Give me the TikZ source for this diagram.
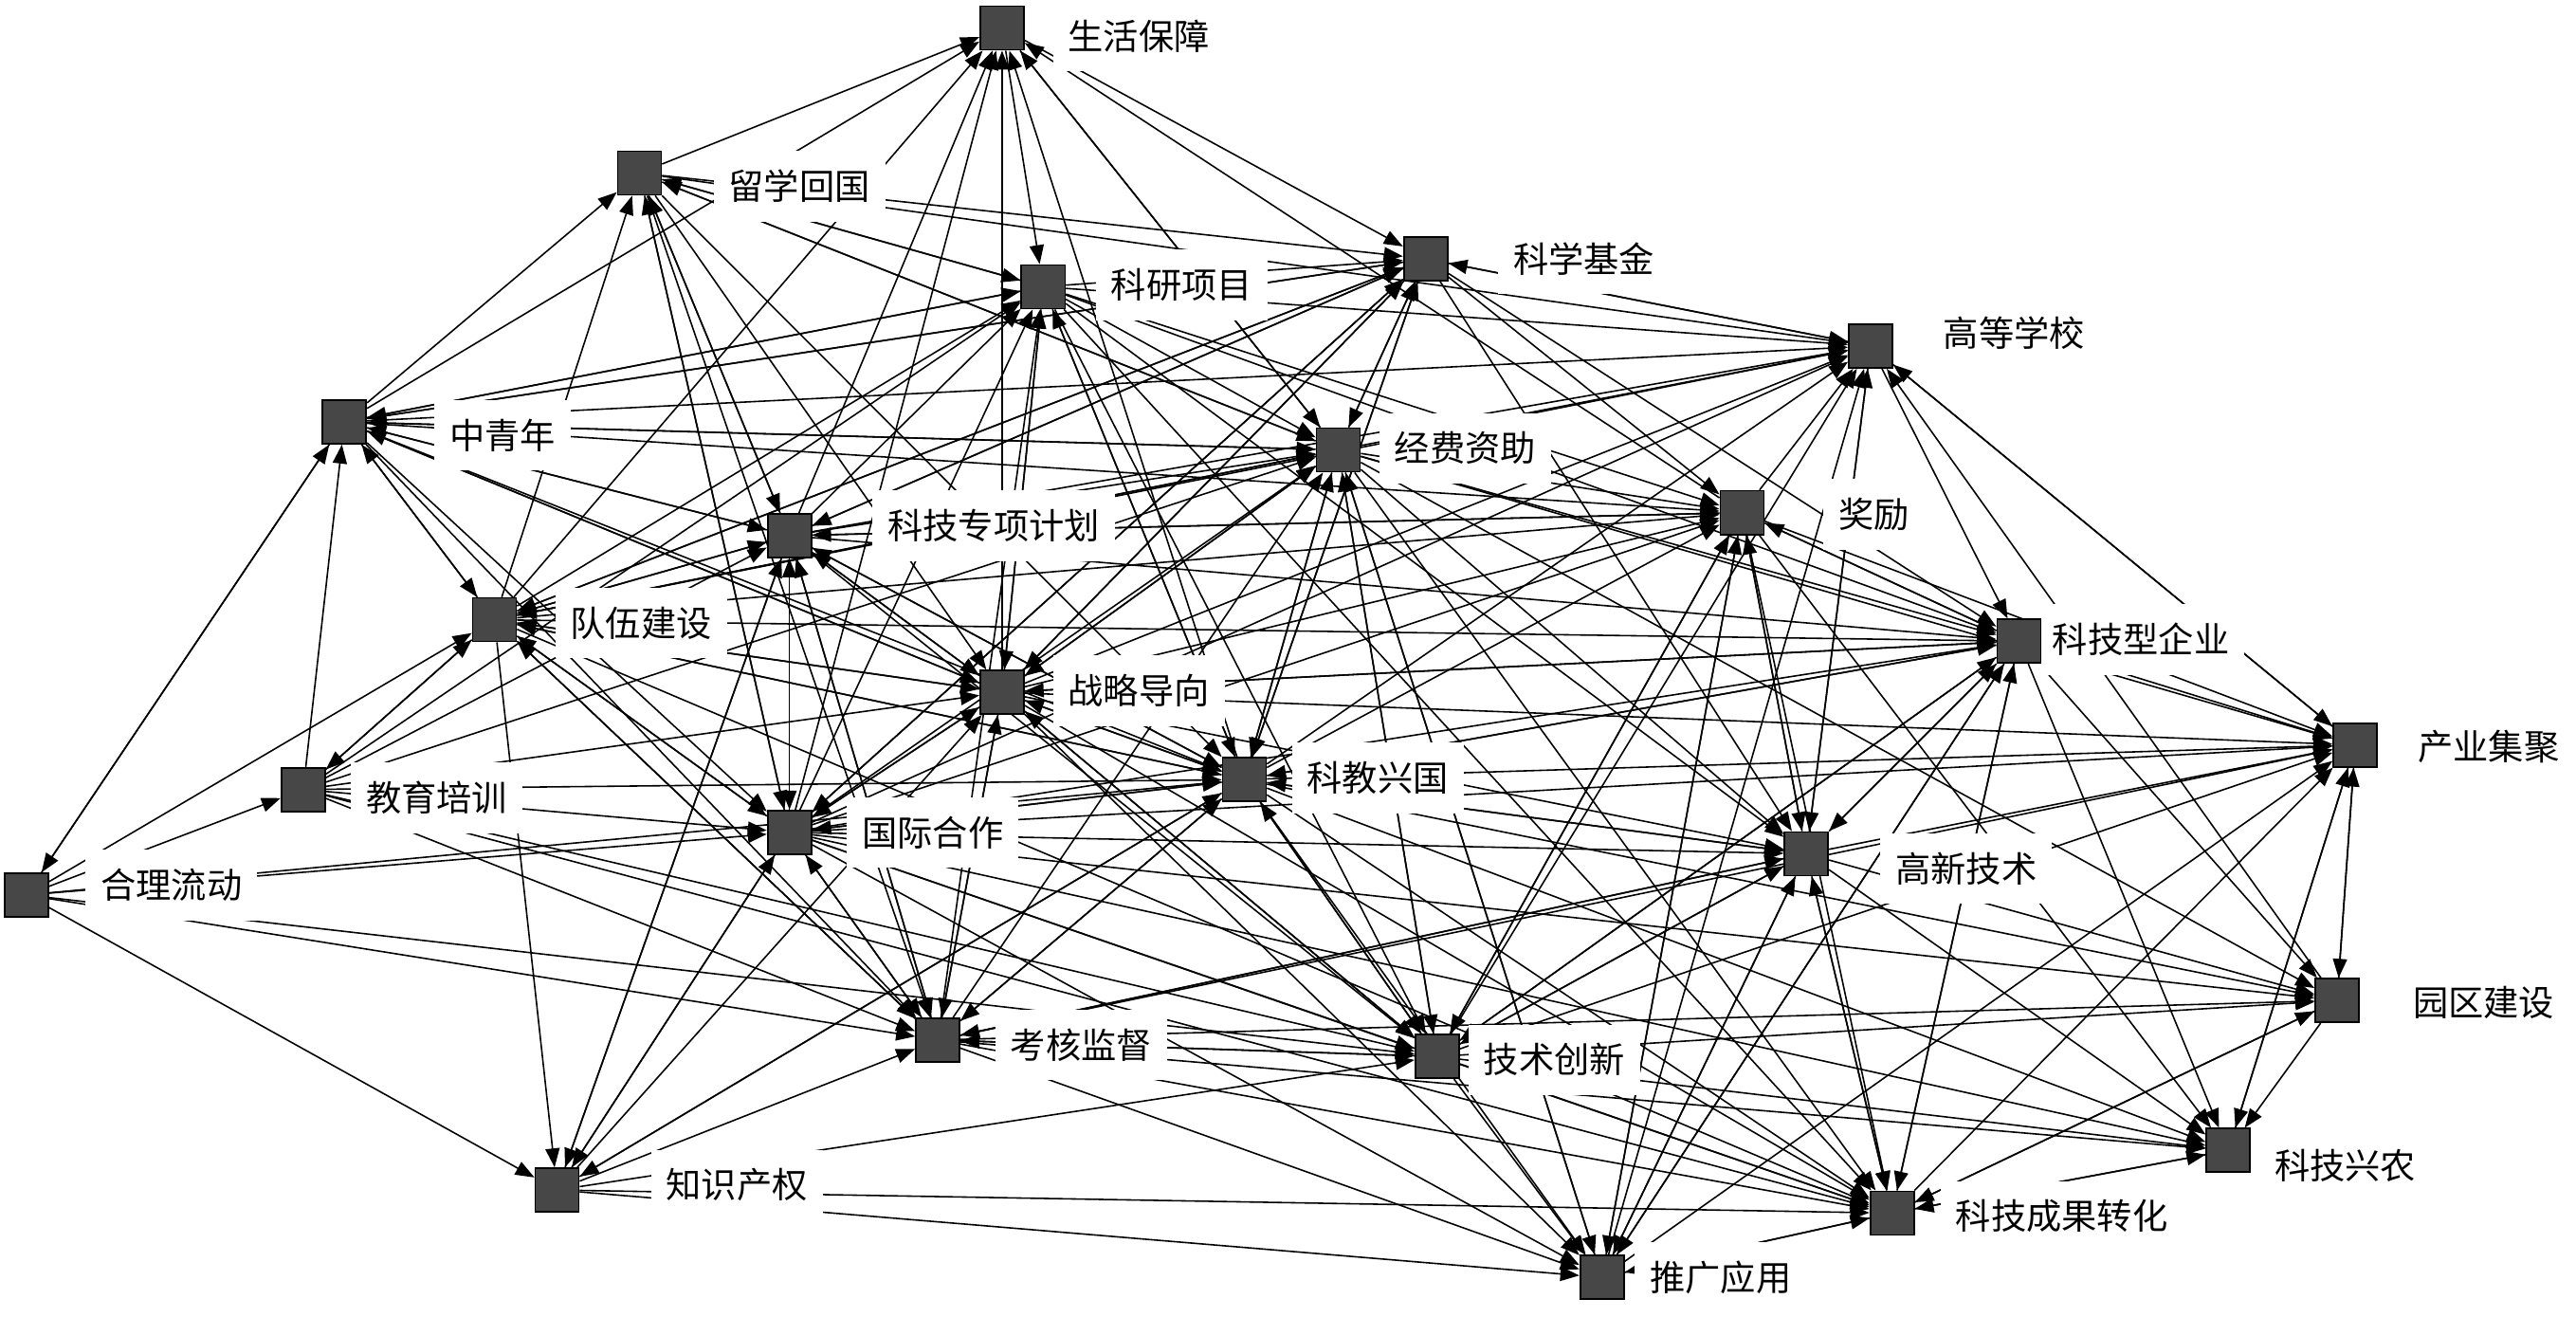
\documentclass[tikz,border=0pt]{standalone}
\usepackage{fontspec}
\newfontfamily\cjkfont{Noto Sans CJK SC}
\usetikzlibrary{arrows.meta,backgrounds}

\tikzset{
  sqbox/.style={draw=black,fill=black!72,minimum size=0.46cm,inner sep=0pt,line width=0.5pt},
  word/.style={fill=white,inner xsep=0.16cm,inner ysep=0.2cm,font=\cjkfont\fontsize{10.6}{12}\selectfont},
  tie/.style={-{Triangle[length=0.2cm,width=0.15cm]},line width=0.45pt},
}

\begin{document}
\begin{tikzpicture}[x=0.017383cm,y=-0.017383cm]
  \useasboundingbox (0,0) rectangle (1563,799);

  % labels
  \node[word] (shbz-t) at (691,22) {生活保障};
  \node[word] (lxhg-t) at (485,113) {留学回国};
  \node[word] (kyxm-t) at (717,173) {科研项目};
  \node[word] (kxjj-t) at (961,157) {科学基金};
  \node[word] (gdxx-t) at (1222,202) {高等学校};
  \node[word] (zqn-t) at (305,264) {中青年};
  \node[word] (jfzz-t) at (889,272) {经费资助};
  \node[word] (jl-t) at (1137,312) {奖励};
  \node[word] (kjzx-t) at (603,319) {科技专项计划};
  \node[word] (dwjs-t) at (389,378) {队伍建设};
  \node[word] (kjqy-t) at (1299,388) {科技型企业};
  \node[word] (zldx-t) at (691,419) {战略导向};
  \node[word] (cyjj-t) at (1510,453) {产业集聚};
  \node[word] (kjxg-t) at (836,472) {科教兴国};
  \node[word] (jypx-t) at (265,484) {教育培训};
  \node[word] (gjhz-t) at (566,505) {国际合作};
  \node[word] (gxjs-t) at (1193,527) {高新技术};
  \node[word] (hlld-t) at (104,537) {合理流动};
  \node[word] (yqjs-t) at (1507,608) {园区建设};
  \node[word] (khjd-t) at (656,634) {考核监督};
  \node[word] (jscx-t) at (943,643) {技术创新};
  \node[word] (kjxn-t) at (1423,707) {科技兴农};
  \node[word] (zscq-t) at (447,719) {知识产权};
  \node[word] (cgzh-t) at (1251,738) {科技成果转化};
  \node[word] (tgyy-t) at (1044,775) {推广应用};

  % squares
  \node[sqbox] (shbz) at (608,17) {};
  \node[sqbox] (lxhg) at (388,105) {};
  \node[sqbox] (kyxm) at (633,174) {};
  \node[sqbox] (kxjj) at (865,157) {};
  \node[sqbox] (gdxx) at (1135,210) {};
  \node[sqbox] (zqn) at (209,256) {};
  \node[sqbox] (jfzz) at (812,273) {};
  \node[sqbox] (jl) at (1057,311) {};
  \node[sqbox] (kjzx) at (479,325) {};
  \node[sqbox] (dwjs) at (300,376) {};
  \node[sqbox] (kjqy) at (1225,389) {};
  \node[sqbox] (zldx) at (608,420) {};
  \node[sqbox] (cyjj) at (1429,452) {};
  \node[sqbox] (kjxg) at (755,473) {};
  \node[sqbox] (jypx) at (184,479) {};
  \node[sqbox] (gjhz) at (479,505) {};
  \node[sqbox] (gxjs) at (1096,518) {};
  \node[sqbox] (hlld) at (16,543) {};
  \node[sqbox] (yqjs) at (1418,607) {};
  \node[sqbox] (khjd) at (569,631) {};
  \node[sqbox] (jscx) at (872,641) {};
  \node[sqbox] (kjxn) at (1352,698) {};
  \node[sqbox] (zscq) at (338,722) {};
  \node[sqbox] (cgzh) at (1148,736) {};
  \node[sqbox] (tgyy) at (972,775) {};

  \begin{pgfonlayer}{background}
  \fill[white] (0,0) rectangle (1563,799);

  \draw[tie] (shbz) -- (kyxm);
  \draw[tie] (shbz) -- (kxjj);
  \draw[tie] (shbz) -- (jfzz);

  \draw[tie] (lxhg) -- (shbz);
  \draw[tie] (lxhg) -- (kyxm);
  \draw[tie] (lxhg) -- (kxjj);
  \draw[tie] (lxhg) -- (gdxx);
  \draw[tie] (lxhg) -- (jfzz);
  \draw[tie] (lxhg) -- (kjzx);
  \draw[tie] (lxhg) -- (zldx);
  \draw[tie] (lxhg) -- (kjxg);
  \draw[tie] (lxhg) -- (khjd);
  \draw[tie] (lxhg) -- (gjhz);

  \draw[tie] (zqn) -- (shbz);
  \draw[tie] (zqn) -- (lxhg);
  \draw[tie] (zqn) -- (kyxm);
  \draw[tie] (zqn) -- (kxjj);
  \draw[tie] (zqn) -- (gdxx);
  \draw[tie] (zqn) -- (jfzz);
  \draw[tie] (zqn) -- (jl);
  \draw[tie] (zqn) -- (kjzx);
  \draw[tie] (zqn) -- (dwjs);
  \draw[tie] (zqn) -- (zldx);
  \draw[tie] (zqn) -- (kjxg);
  \draw[tie] (zqn) -- (gjhz);
  \draw[tie] (zqn) -- (khjd);
  \draw[tie] (zqn) -- (hlld);

  \draw[tie] (kyxm) -- (lxhg);
  \draw[tie] (kyxm) -- (zqn);
  \draw[tie] (kyxm) -- (kxjj);
  \draw[tie] (kyxm) -- (gdxx);
  \draw[tie] (kyxm) -- (jfzz);
  \draw[tie] (kyxm) -- (jl);
  \draw[tie] (kyxm) -- (kjqy);
  \draw[tie] (kyxm) -- (zldx);
  \draw[tie] (kyxm) -- (kjxg);
  \draw[tie] (kyxm) -- (gxjs);
  \draw[tie] (kyxm) -- (jscx);
  \draw[tie] (kyxm) -- (cgzh);

  \draw[tie] (kxjj) -- (zqn);
  \draw[tie] (kxjj) -- (kjzx);
  \draw[tie] (kxjj) -- (dwjs);
  \draw[tie] (kxjj) -- (gdxx);
  \draw[tie] (kxjj) -- (jfzz);
  \draw[tie] (kxjj) -- (jl);
  \draw[tie] (kxjj) -- (kjqy);
  \draw[tie] (kxjj) -- (zldx);
  \draw[tie] (kxjj) -- (kjxg);
  \draw[tie] (kxjj) -- (gxjs);
  \draw[tie] (kxjj) -- (gjhz);

  \draw[tie] (gdxx) -- (kxjj);
  \draw[tie] (gdxx) -- (kjqy);
  \draw[tie] (gdxx) -- (cyjj);
  \draw[tie] (gdxx) -- (gxjs);

  \draw[tie] (jfzz) -- (shbz);
  \draw[tie] (jfzz) -- (lxhg);
  \draw[tie] (jfzz) -- (zqn);
  \draw[tie] (jfzz) -- (kxjj);
  \draw[tie] (jfzz) -- (gdxx);
  \draw[tie] (jfzz) -- (jl);
  \draw[tie] (jfzz) -- (kjqy);
  \draw[tie] (jfzz) -- (cyjj);
  \draw[tie] (jfzz) -- (dwjs);
  \draw[tie] (jfzz) -- (zldx);
  \draw[tie] (jfzz) -- (kjxg);
  \draw[tie] (jfzz) -- (gxjs);
  \draw[tie] (jfzz) -- (jscx);
  \draw[tie] (jfzz) -- (cgzh);
  \draw[tie] (jfzz) -- (tgyy);
  \draw[tie] (jfzz) -- (yqjs);

  \draw[tie] (jl) -- (shbz);
  \draw[tie] (jl) -- (gdxx);
  \draw[tie] (jl) -- (kjqy);
  \draw[tie] (jl) -- (cyjj);
  \draw[tie] (jl) -- (kjzx);
  \draw[tie] (jl) -- (gxjs);
  \draw[tie] (jl) -- (jscx);
  \draw[tie] (jl) -- (cgzh);
  \draw[tie] (jl) -- (tgyy);
  \draw[tie] (jl) -- (kjxn);

  \draw[tie] (kjzx) -- (shbz);
  \draw[tie] (kjzx) -- (lxhg);
  \draw[tie] (kjzx) -- (zqn);
  \draw[tie] (kjzx) -- (kyxm);
  \draw[tie] (kjzx) -- (kxjj);
  \draw[tie] (kjzx) -- (gdxx);
  \draw[tie] (kjzx) -- (jfzz);
  \draw[tie] (kjzx) -- (jl);
  \draw[tie] (kjzx) -- (dwjs);
  \draw[tie] (kjzx) -- (zldx);
  \draw[tie] (kjzx) -- (kjxg);
  \draw[tie] (kjzx) -- (gjhz);
  \draw[tie] (kjzx) -- (khjd);
  \draw[tie] (kjzx) -- (zscq);
  \draw[tie] (kjzx) -- (kjqy);
  \draw[tie] (kjzx) -- (jscx);

  \draw[tie] (dwjs) -- (shbz);
  \draw[tie] (dwjs) -- (lxhg);
  \draw[tie] (dwjs) -- (zqn);
  \draw[tie] (dwjs) -- (kyxm);
  \draw[tie] (dwjs) -- (kxjj);
  \draw[tie] (dwjs) -- (gdxx);
  \draw[tie] (dwjs) -- (jfzz);
  \draw[tie] (dwjs) -- (jl);
  \draw[tie] (dwjs) -- (kjzx);
  \draw[tie] (dwjs) -- (zldx);
  \draw[tie] (dwjs) -- (gjhz);
  \draw[tie] (dwjs) -- (khjd);
  \draw[tie] (dwjs) -- (jypx);
  \draw[tie] (dwjs) -- (kjqy);
  \draw[tie] (dwjs) -- (kjxg);
  \draw[tie] (dwjs) -- (zscq);
  \draw[tie] (dwjs) -- (cgzh);

  \draw[tie] (zldx) -- (shbz);
  \draw[tie] (zldx) -- (zqn);
  \draw[tie] (zldx) -- (kyxm);
  \draw[tie] (zldx) -- (kxjj);
  \draw[tie] (zldx) -- (gdxx);
  \draw[tie] (zldx) -- (jfzz);
  \draw[tie] (zldx) -- (jl);
  \draw[tie] (zldx) -- (kjzx);
  \draw[tie] (zldx) -- (dwjs);
  \draw[tie] (zldx) -- (kjxg);
  \draw[tie] (zldx) -- (gjhz);
  \draw[tie] (zldx) -- (khjd);
  \draw[tie] (zldx) -- (kjqy);
  \draw[tie] (zldx) -- (gxjs);
  \draw[tie] (zldx) -- (jscx);
  \draw[tie] (zldx) -- (cgzh);
  \draw[tie] (zldx) -- (tgyy);
  \draw[tie] (zldx) -- (cyjj);

  \draw[tie] (kjxg) -- (shbz);
  \draw[tie] (kjxg) -- (kyxm);
  \draw[tie] (kjxg) -- (kxjj);
  \draw[tie] (kjxg) -- (gdxx);
  \draw[tie] (kjxg) -- (jfzz);
  \draw[tie] (kjxg) -- (jl);
  \draw[tie] (kjxg) -- (kjzx);
  \draw[tie] (kjxg) -- (dwjs);
  \draw[tie] (kjxg) -- (zldx);
  \draw[tie] (kjxg) -- (kjqy);
  \draw[tie] (kjxg) -- (cyjj);
  \draw[tie] (kjxg) -- (gxjs);
  \draw[tie] (kjxg) -- (jscx);
  \draw[tie] (kjxg) -- (cgzh);
  \draw[tie] (kjxg) -- (tgyy);
  \draw[tie] (kjxg) -- (khjd);
  \draw[tie] (kjxg) -- (zscq);
  \draw[tie] (kjxg) -- (gjhz);
  \draw[tie] (kjxg) -- (yqjs);
  \draw[tie] (kjxg) -- (kjxn);

  \draw[tie] (jypx) -- (zqn);
  \draw[tie] (jypx) -- (kyxm);
  \draw[tie] (jypx) -- (jfzz);
  \draw[tie] (jypx) -- (kjzx);
  \draw[tie] (jypx) -- (dwjs);
  \draw[tie] (jypx) -- (zldx);
  \draw[tie] (jypx) -- (kjxg);
  \draw[tie] (jypx) -- (gjhz);
  \draw[tie] (jypx) -- (khjd);
  \draw[tie] (jypx) -- (jscx);
  \draw[tie] (jypx) -- (cgzh);

  \draw[tie] (gjhz) -- (shbz);
  \draw[tie] (gjhz) -- (lxhg);
  \draw[tie] (gjhz) -- (kyxm);
  \draw[tie] (gjhz) -- (kxjj);
  \draw[tie] (gjhz) -- (gdxx);
  \draw[tie] (gjhz) -- (jfzz);
  \draw[tie] (gjhz) -- (jl);
  \draw[tie] (gjhz) -- (kjzx);
  \draw[tie] (gjhz) -- (dwjs);
  \draw[tie] (gjhz) -- (zldx);
  \draw[tie] (gjhz) -- (kjxg);
  \draw[tie] (gjhz) -- (khjd);
  \draw[tie] (gjhz) -- (jscx);
  \draw[tie] (gjhz) -- (cgzh);
  \draw[tie] (gjhz) -- (tgyy);
  \draw[tie] (gjhz) -- (zscq);
  \draw[tie] (gjhz) -- (kjqy);
  \draw[tie] (gjhz) -- (cyjj);
  \draw[tie] (gjhz) -- (gxjs);
  \draw[tie] (gjhz) -- (kjxn);
  \draw[tie] (gjhz) -- (yqjs);

  \draw[tie] (hlld) -- (zqn);
  \draw[tie] (hlld) -- (jypx);
  \draw[tie] (hlld) -- (dwjs);
  \draw[tie] (hlld) -- (gjhz);
  \draw[tie] (hlld) -- (kjxg);
  \draw[tie] (hlld) -- (zscq);
  \draw[tie] (hlld) -- (khjd);
  \draw[tie] (hlld) -- (jscx);

  \draw[tie] (kjqy) -- (jl);
  \draw[tie] (kjqy) -- (zldx);
  \draw[tie] (kjqy) -- (kjxg);
  \draw[tie] (kjqy) -- (cyjj);
  \draw[tie] (kjqy) -- (gxjs);
  \draw[tie] (kjqy) -- (yqjs);
  \draw[tie] (kjqy) -- (kjxn);
  \draw[tie] (kjqy) -- (cgzh);
  \draw[tie] (kjqy) -- (tgyy);
  \draw[tie] (kjqy) -- (jscx);

  \draw[tie] (gxjs) -- (gdxx);
  \draw[tie] (gxjs) -- (jl);
  \draw[tie] (gxjs) -- (kjxg);
  \draw[tie] (gxjs) -- (kjqy);
  \draw[tie] (gxjs) -- (cyjj);
  \draw[tie] (gxjs) -- (yqjs);
  \draw[tie] (gxjs) -- (kjxn);
  \draw[tie] (gxjs) -- (cgzh);
  \draw[tie] (gxjs) -- (tgyy);
  \draw[tie] (gxjs) -- (jscx);
  \draw[tie] (gxjs) -- (khjd);

  \draw[tie] (cyjj) -- (gdxx);
  \draw[tie] (cyjj) -- (yqjs);
  \draw[tie] (cyjj) -- (kjxn);

  \draw[tie] (yqjs) -- (gdxx);
  \draw[tie] (yqjs) -- (cyjj);
  \draw[tie] (yqjs) -- (kjxn);
  \draw[tie] (yqjs) -- (cgzh);

  \draw[tie] (khjd) -- (kyxm);
  \draw[tie] (khjd) -- (jfzz);
  \draw[tie] (khjd) -- (kjzx);
  \draw[tie] (khjd) -- (dwjs);
  \draw[tie] (khjd) -- (zldx);
  \draw[tie] (khjd) -- (kjxg);
  \draw[tie] (khjd) -- (gjhz);
  \draw[tie] (khjd) -- (gxjs);
  \draw[tie] (khjd) -- (jscx);
  \draw[tie] (khjd) -- (cgzh);
  \draw[tie] (khjd) -- (tgyy);
  \draw[tie] (khjd) -- (kjxn);
  \draw[tie] (khjd) -- (yqjs);
  \draw[tie] (khjd) -- (cyjj);

  \draw[tie] (jscx) -- (gdxx);
  \draw[tie] (jscx) -- (jfzz);
  \draw[tie] (jscx) -- (jl);
  \draw[tie] (jscx) -- (zldx);
  \draw[tie] (jscx) -- (kjxg);
  \draw[tie] (jscx) -- (kjqy);
  \draw[tie] (jscx) -- (gxjs);
  \draw[tie] (jscx) -- (khjd);
  \draw[tie] (jscx) -- (cyjj);
  \draw[tie] (jscx) -- (yqjs);
  \draw[tie] (jscx) -- (cgzh);
  \draw[tie] (jscx) -- (tgyy);
  \draw[tie] (jscx) -- (kjxn);

  \draw[tie] (kjxn) -- (cyjj);
  \draw[tie] (kjxn) -- (cgzh);

  \draw[tie] (zscq) -- (kjzx);
  \draw[tie] (zscq) -- (zldx);
  \draw[tie] (zscq) -- (kjxg);
  \draw[tie] (zscq) -- (gjhz);
  \draw[tie] (zscq) -- (khjd);
  \draw[tie] (zscq) -- (jscx);
  \draw[tie] (zscq) -- (cgzh);
  \draw[tie] (zscq) -- (tgyy);

  \draw[tie] (cgzh) -- (kjqy);
  \draw[tie] (cgzh) -- (gxjs);
  \draw[tie] (cgzh) -- (cyjj);
  \draw[tie] (cgzh) -- (yqjs);
  \draw[tie] (cgzh) -- (tgyy);
  \draw[tie] (cgzh) -- (kjxn);

  \draw[tie] (tgyy) -- (gdxx);
  \draw[tie] (tgyy) -- (jfzz);
  \draw[tie] (tgyy) -- (jl);
  \draw[tie] (tgyy) -- (kjqy);
  \draw[tie] (tgyy) -- (gxjs);
  \draw[tie] (tgyy) -- (cyjj);
  \draw[tie] (tgyy) -- (cgzh);
  \end{pgfonlayer}
\end{tikzpicture}
\end{document}
